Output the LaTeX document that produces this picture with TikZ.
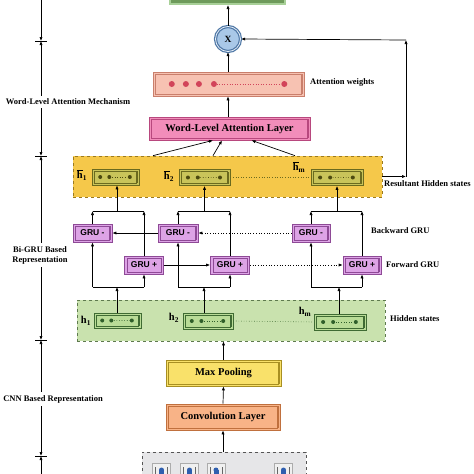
\documentclass[tikz,border=0pt]{standalone}
\usepackage{fontspec}
\setmainfont{Liberation Serif}
\newfontfamily\gsans{Liberation Sans}
\usetikzlibrary{arrows.meta,calc}
\definecolor{topgf}{HTML}{6E9A5B}\definecolor{topgd}{HTML}{A8D098}
\definecolor{circf}{HTML}{A9C8E8}\definecolor{circd}{HTML}{4F78A6}
\definecolor{awf}{HTML}{F7C2B2}\definecolor{awd}{HTML}{C97F6C}\definecolor{awdot}{HTML}{D2445A}
\definecolor{alf}{HTML}{F28DBA}\definecolor{ald}{HTML}{B8487E}
\definecolor{yelf}{HTML}{F5C84A}\definecolor{yeld}{HTML}{9C7A1E}
\definecolor{hbf}{HTML}{C9C45A}\definecolor{hbd}{HTML}{6B6A1E}\definecolor{hbdot}{HTML}{4C4A10}
\definecolor{gruf}{HTML}{DDA3E6}\definecolor{grud}{HTML}{8E4A96}
\definecolor{grnf}{HTML}{C9E2AE}\definecolor{grnd}{HTML}{5E7A4E}
\definecolor{hf}{HTML}{B9DC97}\definecolor{hd}{HTML}{3F6B33}\definecolor{hdot}{HTML}{2F5F2A}
\definecolor{mpf}{HTML}{F9E16A}\definecolor{mpd}{HTML}{A88F22}
\definecolor{cvf}{HTML}{F8B387}\definecolor{cvd}{HTML}{C0703E}
\definecolor{grayf}{HTML}{E6E6E8}\definecolor{grayd}{HTML}{555555}
\definecolor{iconb}{HTML}{2F5FAF}
\newcommand\mydots[3]{%
  \fill[#2] ($(#1.west)!0.18!(#1.east)$) circle (#3);
  \fill[#2] ($(#1.west)!0.37!(#1.east)$) circle (#3);
  \fill[#2] ($(#1.west)!0.80!(#1.east)$) circle (#3);
  \draw[#2,dotted,line width=0.6pt] ($(#1.west)!0.37!(#1.east)$) -- ($(#1.west)!0.80!(#1.east)$);}
\tikzset{
  arr/.style={-{Latex[length=4pt,width=3.2pt]}, line width=0.7pt},
  plain/.style={line width=0.7pt},
  bevbox/.style n args={2}{rectangle, fill=#1, draw=#2, line width=0.7pt, inner sep=0pt,
    path picture={\draw[#2, line width=0.5pt] ([shift={(2.5pt,2pt)}]path picture bounding box.south west) rectangle ([shift={(-2.5pt,-2pt)}]path picture bounding box.north east);
      \draw[#2, line width=1.4pt] ([shift={(-2pt,2pt)}]path picture bounding box.south east) -- ([shift={(-2pt,-2pt)}]path picture bounding box.north east);}},
  region/.style n args={2}{rectangle, fill=#1, draw=#2, dashed, line width=0.7pt, inner sep=0pt},
  bigtxt/.style={font=\bfseries\fontsize{10.5}{12}\selectfont},
  lbl/.style={font=\bfseries\fontsize{8.5}{10}\selectfont, inner sep=0pt},
  grubox/.style={bevbox={gruf}{grud}, minimum height=18pt, font=\gsans\bfseries\fontsize{8.5}{10}\selectfont},
  hbbox/.style={bevbox={hbf}{hbd}, minimum height=16pt},
  hbox/.style={bevbox={hf}{hd}, minimum height=16pt},
  hlbl/.style={font=\fontsize{10.5}{12}\selectfont, inner sep=0pt},
  icon/.style={rectangle, fill=gray!12, draw=gray!65, line width=0.5pt, minimum width=18pt, minimum height=16pt,
    path picture={\fill[iconb] ([shift={(-2.5pt,-5pt)}]path picture bounding box.center) rectangle ([shift={(2.5pt,1pt)}]path picture bounding box.center);
      \fill[iconb] ([shift={(0pt,1pt)}]path picture bounding box.center) circle (2.5pt);
      \draw[gray!80!black, line width=0.8pt] ([shift={(-6pt,-6pt)}]path picture bounding box.center) -- ([shift={(-6pt,4pt)}]path picture bounding box.center);
      \draw[gray!80!black, line width=0.8pt] ([shift={(6pt,-6pt)}]path picture bounding box.center) -- ([shift={(6pt,4pt)}]path picture bounding box.center);}},
}
\begin{document}
\begin{tikzpicture}[x=1pt,y=-1pt]
\useasboundingbox (0,0) rectangle (474,474);
\clip (0,0) rectangle (474,474);
\fill[white] (0,0) rectangle (474,474);
% top box and multiplication
\node[rectangle, fill=topgf, draw=topgd, line width=2pt, minimum width=115pt, minimum height=18pt] (top) at (227.5,-5) {};
\node[circle, fill=circf, draw=circd, line width=1.2pt, double=white!70!circf, double distance=0.8pt, minimum size=25pt, inner sep=0pt, font=\bfseries\fontsize{9.5}{10}\selectfont] (x) at (228,39) {X};
\node[bevbox={awf}{awd}, minimum width=151pt, minimum height=24pt] (aw) at (228.5,84) {};
\foreach \f in {0.126,0.219,0.305,0.404,0.868} \fill[awdot] ($(aw.west)!\f!(aw.east)$) circle (3pt);
\draw[awdot, dotted, line width=0.6pt] ($(aw.west)!0.404!(aw.east)$) -- ($(aw.west)!0.868!(aw.east)$);
\node[bevbox={alf}{ald}, minimum width=161pt, minimum height=23pt, bigtxt] (al) at (229.5,128.5) {Word-Level Attention Layer};
\node[lbl, anchor=west] (awl) at (310,82) {Attention weights};
% resultant hidden states
\node[region={yelf}{yeld}, minimum width=309pt, minimum height=41pt] (yel) at (227.5,176.5) {};
\node[hbbox, minimum width=47pt] (hb1) at (115.5,177) {};
\node[hbbox, minimum width=51pt] (hb2) at (204.5,177.5) {};
\node[hbbox, minimum width=52pt] (hb3) at (337,177.5) {};
\mydots{hb1}{hbdot}{2pt}\mydots{hb2}{hbdot}{2pt}\mydots{hb3}{hbdot}{2pt}
\draw[hbd, dotted, line width=0.6pt] (hb2.east) -- (hb3.west);
\node[hlbl] (lhb1) at (82,175) {$\overline{\mathbf{h}}_{\mathbf{1}}$};
\node[hlbl] (lhb2) at (169,176) {$\overline{\mathbf{h}}_{\mathbf{2}}$};
\node[hlbl] (lhb3) at (299,167) {$\overline{\mathbf{h}}_{\mathbf{m}}$};
\node[lbl, anchor=west] (rhl) at (384,184) {Resultant Hidden states};
% GRUs
\node[grubox, minimum width=39pt] (g1) at (92.5,233) {GRU -};
\node[grubox, minimum width=40pt] (g2) at (178,233) {GRU -};
\node[grubox, minimum width=38pt] (g3) at (311,233) {GRU -};
\node[grubox, minimum width=39pt] (p1) at (144,265) {GRU +};
\node[grubox, minimum width=39pt] (p2) at (230,265) {GRU +};
\node[grubox, minimum width=38pt] (p3) at (362,265) {GRU +};
\node[lbl, anchor=west] (bwl) at (371,231) {Backward GRU};
\node[lbl, anchor=west] (fwl) at (386,265) {Forward GRU};
\draw[arr] (g2.west) -- (g1.east);
\draw[arr, dotted] (g3.west) -- (g2.east);
\draw[arr] (p1.east) -- (p2.west);
\draw[arr, dotted] (p2.east) -- (p3.west);
% hidden states
\node[region={grnf}{grnd}, minimum width=308pt, minimum height=41pt] (grn) at (231,320.5) {};
\node[hbox, minimum width=47pt, minimum height=15pt] (h1) at (117.5,320.5) {};
\node[hbox, minimum width=50pt] (h2) at (208,321) {};
\node[hbox, minimum width=52pt] (h3) at (340,322) {};
\mydots{h1}{hdot}{2pt}\mydots{h2}{hdot}{2pt}\mydots{h3}{hdot}{2pt}
\draw[hd, dotted, line width=0.6pt] (h2.east) -- (h3.west);
\node[hlbl] (lh1) at (86,321) {$\mathbf{h}_{\mathbf{1}}$};
\node[hlbl] (lh2) at (174,318) {$\mathbf{h}_{\mathbf{2}}$};
\node[hlbl] (lh3) at (305,312) {$\mathbf{h}_{\mathbf{m}}$};
\node[lbl, anchor=west] (hsl) at (390,319) {Hidden states};
% group junctions
\coordinate (ja) at (117,211); \coordinate (jb) at (204.5,211); \coordinate (jc) at (337,211);
\coordinate (ka) at (117,287); \coordinate (kb) at (204,287); \coordinate (kc) at (339,287);
\foreach \j/\k/\g/\p/\hb/\h in {ja/ka/g1/p1/hb1/h1, jb/kb/g2/p2/hb2/h2, jc/kc/g3/p3/hb3/h3}{
  \draw[arr] (\j) -- (\j |- \hb.south);
  \draw[plain] (\g.north |- \j) -- (\p.north |- \j);
  \draw[arr] (\g.north) -- (\g.north |- \j);
  \draw[arr] (\p.north) -- (\p.north |- \j);
  \draw[arr] (\k |- \h.north) -- (\k);
  \draw[plain] (\g.south |- \k) -- (\p.south |- \k);
  \draw[arr] (\g.south |- \k) -- (\g.south);
  \draw[arr] (\p.south |- \k) -- (\p.south);
}
% CNN part
\node[bevbox={mpf}{mpd}, minimum width=115pt, minimum height=26pt, bigtxt] (mp) at (223.5,373) {Max Pooling};
\node[bevbox={cvf}{cvd}, minimum width=114pt, minimum height=26pt, bigtxt] (cv) at (223,417) {Convolution Layer};
\node[region={grayf}{grayd}, minimum width=164pt, minimum height=40pt] (gr) at (224,472) {};
\node[icon] (i1) at (161.5,471) {};
\node[icon] (i2) at (189.5,471) {};
\node[icon] (i3) at (216,471) {};
\node[icon] (i4) at (283.5,471) {};
\draw[arr] (gr.north -| cv) -- (cv.south);
\draw[arr] (cv.north) -- (mp.south);
\draw[arr] (mp.north) -- (mp.north |- grn.south);
% attention connections
\draw[arr] ([xshift=-74.5pt]yel.north) -- ([xshift=-16.5pt]al.south);
\draw[arr] ([xshift=-14.5pt]yel.north) -- ([xshift=-7.5pt]al.south);
\draw[arr] ([xshift=67.5pt]yel.north) -- ([xshift=22pt]al.south);
\draw[arr] (al.north -| x) -- (aw.south -| x);
\draw[arr] (aw.north -| x) -- (x.south);
\draw[arr] (x.north) -- (x.north |- top.south);
\coordinate (r1) at (406,176.5); \coordinate (r2) at (406,40);
\draw[arr] (yel.east) -- (r1);
\draw[arr] (r1) -- (r2);
\draw[arr] (r2) -- (x.east);
% left axis
\node[lbl] (lab1) at (68,102) {Word-Level Attention Mechanism};
\node[lbl, align=center] (lab2) at (40,255) {Bi-GRU Based\\Representation};
\node[lbl] (lab3) at (53,399) {CNN Based Representation};
\coordinate (t0) at (41,-5); \coordinate (t1) at (41,41); \coordinate (t2) at (41,156);
\coordinate (t3) at (41,340); \coordinate (t4) at (41,456); \coordinate (t5) at (41,480);
\foreach \t in {t1,t2,t3,t4} \draw[plain] ([xshift=-6pt]\t) -- ([xshift=6pt]\t);
\draw[arr] (t0) -- (t1);
\draw[arr] ([yshift=3pt]lab1.north -| t1) -- (t1);
\draw[arr] ([yshift=-3pt]lab1.south -| t1) -- (t2);
\draw[arr] ([yshift=3pt]lab2.north -| t2) -- (t2);
\draw[arr] ([yshift=-3pt]lab2.south -| t2) -- (t3);
\draw[arr] ([yshift=3pt]lab3.north -| t3) -- (t3);
\draw[arr] ([yshift=-3pt]lab3.south -| t3) -- (t4);
\draw[arr] (t5) -- (t4);
\end{tikzpicture}
\end{document}
